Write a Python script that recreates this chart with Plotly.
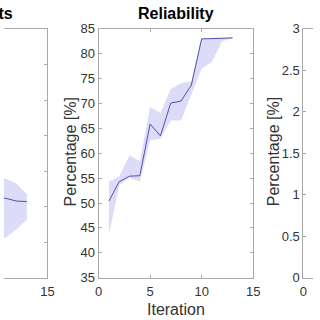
import plotly.graph_objects as go

# ---- data ----
iters = list(range(1, 14))
rel_mean = [50.4, 54.3, 55.4, 55.5, 65.9, 63.5, 70.1, 70.5, 73.7, 83.0, 83.05, 83.1, 83.2]
rel_upper = [54.3, 55.4, 59.6, 58.4, 69.3, 68.1, 72.9, 74.1, 74.5, 83.1, 83.15, 83.2, 83.3]
rel_lower = [43.6, 53.6, 55.1, 54.3, 62.6, 62.9, 66.6, 66.6, 71.8, 77.0, 78.4, 82.5, 83.1]

left_iters = [9, 10, 11, 12, 13]
left_mean = [2.26, 2.25, 2.23, 2.155, 2.143]
left_upper = [3.0, 2.9, 2.78, 2.65, 2.35]
left_lower = [0.9, 1.0, 1.14, 1.36, 1.63]

mid_yticks = [35, 40, 45, 50, 55, 60, 65, 70, 75, 80, 85]
right_yticks = [0, 0.5, 1, 1.5, 2, 2.5, 3]
right_yticklabels = ["0", "0.5", "1", "1.5", "2", "2.5", "3"]
xticks = [0, 5, 10, 15]

LINE = "#5151a8"
FILL = "#dcdcf8"
AX = "#a8a8a8"
TXT = "#333333"
W = 320.0

fig = go.Figure()

def band(x, lo, hi, xa, ya):
    fig.add_trace(go.Scatter(x=list(x) + list(x)[::-1], y=list(hi) + list(lo)[::-1],
                             fill="toself", fillcolor=FILL, line=dict(width=0),
                             mode="lines", hoverinfo="skip", showlegend=False,
                             xaxis=xa, yaxis=ya))

def mline(x, y, xa, ya):
    fig.add_trace(go.Scatter(x=x, y=y, mode="lines", line=dict(color=LINE, width=1),
                             showlegend=False, xaxis=xa, yaxis=ya))

band(iters, rel_lower, rel_upper, "x", "y")
mline(iters, rel_mean, "x", "y")
band(left_iters, left_lower, left_upper, "x2", "y2")
mline(left_iters, left_mean, "x2", "y2")
# third panel (only its left edge is in view)
fig.add_trace(go.Scatter(x=[], y=[], mode="lines", showlegend=False, xaxis="x3", yaxis="y3"))

ydom = [1 - 284 / W, 1 - 23 / W]
tickfont = dict(family="Liberation Sans, Arial", size=13, color=TXT)
common = dict(showgrid=False, zeroline=False, showline=True, linecolor=AX, linewidth=1,
              ticks="inside", ticklen=3, tickcolor=AX, tickfont=tickfont)

fig.update_layout(
    width=320, height=320, margin=dict(l=0, r=0, t=0, b=0),
    plot_bgcolor="white", paper_bgcolor="white",
    xaxis=dict(domain=[98 / W, 258 / W], range=[0, 15], tickvals=xticks, anchor="y",
               mirror="ticks", ticklabelstandoff=2, **common),
    yaxis=dict(domain=ydom, range=[35, 85], tickvals=mid_yticks, anchor="x",
               mirror="ticks", **common),
    xaxis2=dict(domain=[0, 45 / W], range=[15 - 45 * 15 / 160, 15], tickvals=xticks,
                anchor="y2", mirror="ticks", ticklabelstandoff=2, **common),
    yaxis2=dict(domain=ydom, range=[0, 7], dtick=1, anchor="x2", side="right",
                showticklabels=False, **common),
    xaxis3=dict(domain=[310 / W, 1], range=[0, 10 * 15 / 160], tickvals=xticks,
                anchor="y3", mirror="ticks", ticklabelstandoff=2, **common),
    yaxis3=dict(domain=ydom, range=[0, 3], tickvals=right_yticks, ticktext=right_yticklabels,
                anchor="x3", **common),
)

def ann(text, px, py, size, bold=False, angle=0, xanchor="center", color=TXT):
    fig.add_annotation(text=("<b>%s</b>" % text) if bold else text,
                       x=px / W, y=1 - py / W, xref="paper", yref="paper",
                       showarrow=False, textangle=angle, xanchor=xanchor, yanchor="middle",
                       font=dict(family="Liberation Sans, Arial", size=size, color=color))

ann("Reliability", 178, 7, 16, bold=True, color="black")
ann("Requirements", 11.5, 7, 16, bold=True, xanchor="right", color="black")
ann("Iteration", 178, 317, 16)
ann("Percentage [%]", 69, 152, 16, angle=-90)
ann("Percentage [%]", 279, 152, 16, angle=-90)

fig.write_html("out.html")
